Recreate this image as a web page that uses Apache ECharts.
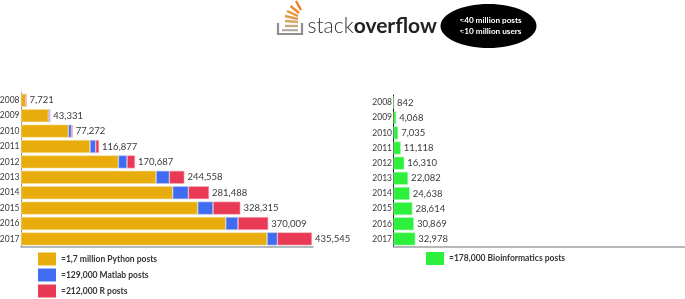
<!DOCTYPE html>
<html><head><meta charset="utf-8">
<style>html,body{margin:0;padding:0;background:#fff}#c{width:685px;height:299px}</style>
<script src="https://cdn.jsdelivr.net/npm/echarts@6/dist/echarts.min.js"></script>
</head><body><div id="c"></div>
<script>
const years = ['2008','2009','2010','2011','2012','2013','2014','2015','2016','2017'];
const pythonPosts = [7700,40900,70900,103300,145700,202100,227000,264500,306400,368300];
const matlabPosts = [21,2300,4500,8500,13000,19900,23500,22900,18400,15400];
const rPosts = [0,131,1872,5077,11987,22558,30988,40915,45209,51845];
const totals = [7721,43331,77272,116877,170687,244558,281488,328315,370009,435545];
const bioPosts = [842,4068,7035,11118,16310,22082,24638,28614,30869,32978];
const names = ['≈1,7 million Python posts','≈129,000 Matlab posts','≈212,000 R posts','≈178,000 Bioinformatics posts'];
const colors = ['#E8AD0C','#3F6CF0','#E83A55','#2CF03C'];
const borders = ['#F6DE9A','#B9C9F8','#F6B3BE','#B5F8B9'];
const F = 'Lato, "Open Sans", sans-serif';
const txt = '#3a3a3a';
const fmt = v => v.toLocaleString('en-US');

function bar(i, data, gridIndex, extra){
  return Object.assign({
    type:'bar', name:names[i], data, stack:'s'+gridIndex, xAxisIndex:gridIndex, yAxisIndex:gridIndex,
    barWidth:13, itemStyle:{color:colors[i], borderColor:borders[i], borderWidth:0.6},
    animation:false, silent:true
  }, extra||{});
}
const totalLabel = {show:true, position:'right', distance:3, fontFamily:F, fontSize:9.5, color:txt,
  formatter:p=>fmt(totals[p.dataIndex])};
const bioLabel = {show:true, position:'right', distance:3, fontFamily:F, fontSize:9.5, color:txt,
  formatter:p=>fmt(p.value)};

const chart = echarts.init(document.getElementById('c'), null, {renderer:'canvas'});
const yAxis = (g,c)=>({type:'category', gridIndex:g, inverse:true, data:years,
  axisLine:{lineStyle:{color:c,width:1}}, axisTick:{show:false},
  axisLabel:{fontFamily:F,fontSize:8.5,color:txt,margin:1.5}});
const xAxis = (g,m)=>({type:'value', gridIndex:g, min:0, max:m, show:true,
  axisLine:{show:true,lineStyle:{color:'#9aa3a8',width:1.5}}, axisTick:{show:false},
  axisLabel:{show:false}, splitLine:{show:false}});
const legBase = {orient:'vertical', itemWidth:18, itemHeight:13, itemGap:3, icon:'rect', padding:0, itemStyle:{borderWidth:0},
  textStyle:{fontFamily:F,fontSize:8.5,fontWeight:'bold',color:'#333'}, selectedMode:false};
const stick = (x1,y1,x2,y2,c)=>({type:'line',shape:{x1,y1,x2,y2},style:{stroke:c,lineWidth:2.4}});

chart.setOption({
  animation:false,
  grid:[
    {left:21, top:92.6, width:292, height:154, containLabel:false, outerBoundsMode:'none'},
    {left:393.5, top:95, width:292, height:151.5, containLabel:false, outerBoundsMode:'none'}
  ],
  xAxis:[xAxis(0,437000),xAxis(1,441000)],
  yAxis:[yAxis(0,'#8a9296'),yAxis(1,'#15201a')],
  legend:[
    Object.assign({},legBase,{left:38,top:252.5,data:names.slice(0,3).map(n=>({name:n}))}),
    Object.assign({},legBase,{left:426,top:252,data:[{name:names[3]}]})
  ],
  series:[
    bar(0,pythonPosts,0),
    bar(1,matlabPosts,0),
    bar(2,rPosts,0,{label:totalLabel}),
    bar(3,bioPosts,1,{label:bioLabel})
  ],
  graphic:[
    {type:'polyline',shape:{points:[[278,23],[278,34],[302,34],[302,23]]},style:{fill:null,stroke:'#8f8f8f',lineWidth:2.2}},
    {type:'rect',shape:{x:282,y:29.2,width:16,height:2},style:{fill:'#A9A49C'}},
    stick(285,26,298,26,'#C4A880'),
    stick(285,21,298,22,'#D6A468'),
    stick(285,16,298,19,'#E39A4E'),
    stick(287,11,298,16,'#EA9238'),
    stick(290.5,6,299,13,'#EE8A2A'),
    stick(296,1,301,10,'#F0801F'),
    {type:'text',x:307.5,y:15.5,style:{rich:{a:{fontFamily:F,fontSize:21,fill:'#333',fontWeight:300},b:{fontFamily:F,fontSize:21,fill:'#222',fontWeight:'bold'}},text:'{a|stack}{b|overflow}'}},
    {type:'ellipse',shape:{cx:488.5,cy:26,rx:48,ry:22},style:{fill:'#000'}},
    {type:'text',x:490.5,y:20.7,style:{text:'≈40 million posts',fontFamily:F,fontSize:8.2,fontWeight:'bold',fill:'#fff',textAlign:'center',textVerticalAlign:'middle'}},
    {type:'text',x:490.5,y:31.3,style:{text:'≈10 million users',fontFamily:F,fontSize:8.2,fontWeight:'bold',fill:'#fff',textAlign:'center',textVerticalAlign:'middle'}}
  ]
});
</script></body></html>
